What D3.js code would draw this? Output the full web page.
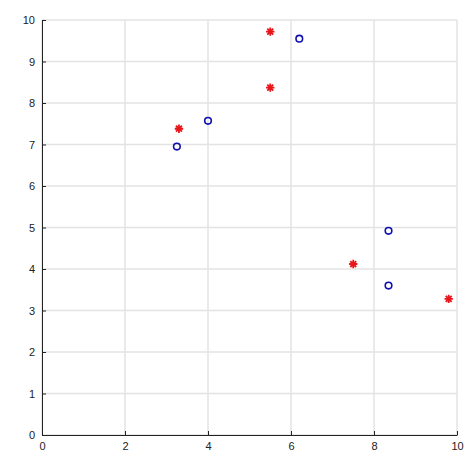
<!DOCTYPE html>
<html lang="en">
<head>
<meta charset="UTF-8">
<style>
  body { margin: 0; background: #fff; }
  text { font-family: "Liberation Sans", Arial, sans-serif; }
</style>
</head>
<body>
<svg id="chart" width="474" height="474"></svg>
<script src="https://cdn.jsdelivr.net/npm/d3@7"></script>
<script>
    const ticks = [0, 1, 2, 3, 4, 5, 6, 7, 8, 9, 10]
    const xTicks = [0, 2, 4, 6, 8, 10]
    const circleX = [3.25, 4.0, 6.2, 8.35, 8.35]
    const circleY = [6.95, 7.57, 9.55, 4.92, 3.6]
    const starX = [3.3, 5.5, 5.5, 7.5, 9.8]
    const starY = [7.38, 9.72, 8.37, 4.12, 3.28]

    const svg = d3.select('#chart')
    const x = d3.scaleLinear().domain([0, 10]).range([42, 457])
    const y = d3.scaleLinear().domain([0, 10]).range([435, 20])

    // grid
    svg.append('g').selectAll('line').data(xTicks).enter().append('line')
        .attr('x1', d => x(d)).attr('x2', d => x(d)).attr('y1', y(0)).attr('y2', y(10))
        .attr('stroke', '#e3e3e3').attr('stroke-width', 1.5)
    svg.append('g').selectAll('line').data(ticks).enter().append('line')
        .attr('x1', x(0)).attr('x2', x(10)).attr('y1', d => y(d)).attr('y2', d => y(d))
        .attr('stroke', '#e3e3e3').attr('stroke-width', 1.5)

    const xAxis = svg.append('g').attr('transform', `translate(0,${y(0)})`)
        .call(d3.axisBottom(x).tickValues(xTicks).tickSizeInner(-4).tickSizeOuter(0).tickPadding(7))
    const yAxis = svg.append('g').attr('transform', `translate(${x(0)},0)`)
        .call(d3.axisLeft(y).tickValues(ticks).tickSizeInner(-4).tickSizeOuter(0).tickPadding(7))
    for (const a of [xAxis, yAxis]) {
        a.selectAll('text').attr('font-size', 11).attr('fill', '#222')
        a.select('.domain').attr('stroke', '#222')
        a.selectAll('.tick line').attr('stroke', '#222')
    }

    svg.append('g').selectAll('circle').data(circleX).enter().append('circle')
        .attr('cx', d => x(d)).attr('cy', (d, i) => y(circleY[i])).attr('r', 3.3)
        .attr('fill', 'none').attr('stroke', '#1010b0').attr('stroke-width', 1.6)

    // 8-pointed asterisk marker
    const r = 4.2, s = r * Math.SQRT1_2
    const starPath = `M${-r},0L${r},0M0,${-r}L0,${r}M${-s},${-s}L${s},${s}M${-s},${s}L${s},${-s}`
    svg.append('g').selectAll('path').data(starX).enter().append('path')
        .attr('d', starPath)
        .attr('transform', (d, i) => `translate(${x(d)},${y(starY[i])})`)
        .attr('fill', 'none').attr('stroke', '#e8161a').attr('stroke-width', 1.8)
</script>
</body>
</html>
